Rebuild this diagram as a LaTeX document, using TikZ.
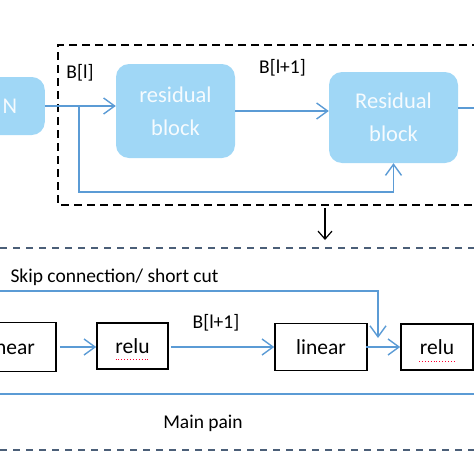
\documentclass[tikz,border=0pt]{standalone}
\usepackage{fontspec}
\setmainfont{Carlito}
\usetikzlibrary{arrows.meta}
\definecolor{lineblue}{RGB}{91,155,213}
\definecolor{blockblue}{RGB}{160,215,246}
\definecolor{slate}{RGB}{75,95,120}

\begin{document}
\begin{tikzpicture}[x=1pt,y=-1pt,
	flow/.style={lineblue,line width=1.6pt,-{Straight Barb[length=11pt,width=16pt,line width=1.4pt]}},
	wire/.style={lineblue,line width=1.6pt},
	block/.style={fill=blockblue,rounded corners=13pt,inner sep=0pt,text=white!90!blockblue,align=center,font=\fontsize{22.5}{33}\selectfont},
	layer/.style={draw,line width=1.6pt,inner sep=0pt,font=\fontsize{21.5}{24}\selectfont},
	lbl/.style={font=\fontsize{19.5}{23}\selectfont},
	spell/.style={red!80!magenta,dotted,line width=0.9pt}]
	\useasboundingbox (0,0) rectangle (474,474);
	\draw[line width=2.4pt,dash pattern=on 8pt off 5pt] (480,45) -- (58,45) -- (58,205) -- (480,205);
	\node[block,minimum width=70pt,minimum height=58pt,anchor=east] (N) at (45,106) {N};
	\node[block,minimum width=119pt,minimum height=94pt] (res1) at (175.5,111) {residual\\block};
	\node[block,minimum width=129pt,minimum height=91pt] (res2) at (393.5,117.5) {Residual\\block};
	\node[lbl] (bl) at (80,73) {B[l]};
	\node[lbl] (blup) at (282.5,68) {B[l+1]};
	\coordinate (split) at (79,106);
	\coordinate (outR) at (480,108);
	\draw[flow] (N.east |- split) -- (res1.west |- split);
	\draw[flow] (split) -- ++(0,86) -| (res2.south);
	\draw[flow] (res1.east) -- (res1.east -| res2.west);
	\draw[wire] (res2.east |- outR) -- (outR);
	\coordinate (dtop) at (325,208);
	\draw[line width=1.2pt,-{Straight Barb[length=8pt,width=14pt]}] (dtop) -- ++(0,32);
	\draw[slate,line width=1.3pt,dash pattern=on 7pt off 6pt] (0,248) -- (474,248);
	\draw[slate,line width=1.3pt,dash pattern=on 7pt off 6pt] (0,450) -- (474,450);
	\node[lbl,anchor=west] (skiptxt) at (7,277) {Skip connection/ short cut};
	\node[layer,minimum width=92pt,minimum height=49pt] (lin1) at (10,347) {linear};
	\node[layer,minimum width=71pt,minimum height=46pt] (relu1) at (132.5,346) {relu};
	\node[layer,minimum width=92pt,minimum height=47pt] (lin2) at (321,347) {linear};
	\node[layer,minimum width=72pt,minimum height=46pt] (relu2) at (437,347) {relu};
	\node[lbl] (bllow) at (216,323) {B[l+1]};
	\draw[spell] ([xshift=-17pt,yshift=-13pt]relu1.center) -- ++(34,0);
	\draw[spell] ([xshift=-18pt,yshift=-14pt]relu2.center) -- ++(36,0);
	\coordinate (skipL) at (-5,291);
	\coordinate (add) at (378,338);
	\draw[flow] (skipL) -| (add);
	\draw[flow,shorten <=3pt] (lin1.east) -- (lin1.east -| relu1.west);
	\draw[flow,shorten <=2pt] (relu1.east |- lin2) -- (lin2.west);
	\draw[flow,shorten <=-2pt] (lin2.east) -- (relu2.west);
	\coordinate (mainL) at (-5,394);
	\coordinate (mainR) at (480,394);
	\draw[wire] (mainL) -- (mainR);
	\node[lbl] (maintxt) at (203,423) {Main pain};
\end{tikzpicture}
\end{document}
